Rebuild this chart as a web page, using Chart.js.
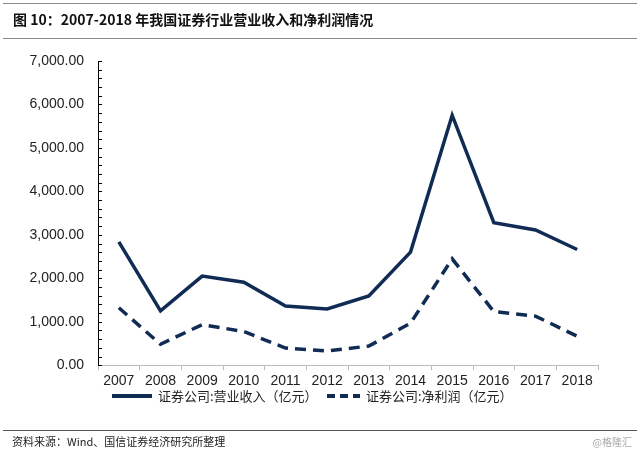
<!DOCTYPE html>
<html>
<head>
<meta charset="utf-8">
<script src="https://cdn.jsdelivr.net/npm/chart.js@4"></script>
<style>
  html, body { margin: 0; padding: 0; background: #fff; }
  .page { position: relative; width: 640px; height: 453px; overflow: hidden; }
  .rule { position: absolute; left: 3px; width: 634px; height: 1px; background: #8a8a8a; }
  .title { position: absolute; left: 13px; top: 9px; font: bold 14px "Noto Sans CJK SC", sans-serif; color: #111; }
  .source { position: absolute; left: 12px; top: 433px; font: 11px "Noto Sans CJK SC", sans-serif; color: #222; }
  .mark { position: absolute; right: 8px; top: 434px; font: 10px "Noto Sans CJK SC", sans-serif; color: #aaa; }
  canvas { position: absolute; left: 0; top: 0; }
</style>
</head>
<body>
<div class="page">
  <canvas id="chart" width="640" height="453"></canvas>
  <div class="rule" style="top:3px"></div>
  <div class="title">图 10：2007-2018 年我国证券行业营业收入和净利润情况</div>
  <div class="rule" style="top:38px"></div>
  <div class="rule" style="top:430px; background:#555"></div>
  <div class="source">资料来源：Wind、国信证券经济研究所整理</div>
  <div class="mark">@格隆汇</div>
</div>
<script>
/* Data */

const years = ['2007', '2008', '2009', '2010', '2011', '2012', '2013', '2014', '2015', '2016', '2017', '2018']
const revenue = [2837, 1251, 2050, 1911, 1360, 1295, 1592, 2603, 5752, 3280, 3113, 2663]
const profit = [1321, 482, 933, 776, 394, 329, 440, 966, 2447, 1234, 1130, 666]

const navy = '#112c54'

/* Y axis: black line with inward ticks (major 1000, minor 200) */

const innerTicks = {
  id: 'innerTicks',
  afterDraw(chart) {
    const ctx = chart.ctx
    const y = chart.scales.y
    const left = chart.chartArea.left
    ctx.save()
    ctx.strokeStyle = '#000'
    ctx.lineWidth = 1
    for (let v = 0; v <= 7000; v += 200) {
      const py = Math.round(y.getPixelForValue(v)) + 0.5
      ctx.beginPath()
      ctx.moveTo(left, py)
      ctx.lineTo(left + 4, py)
      ctx.stroke()
    }
    ctx.restore()
  }
}

/* Legend under the axis: line sample + label for each dataset */

const lineLegend = {
  id: 'lineLegend',
  afterDraw(chart) {
    const ctx = chart.ctx
    const items = [
      { x: 112, w: 40, dash: [] },
      { x: 327, w: 33, dash: [8, 5] }
    ]
    const y = 396
    ctx.save()
    ctx.font = '13px "Noto Sans CJK SC", sans-serif'
    ctx.textBaseline = 'middle'
    items.forEach((it, i) => {
      const ds = chart.data.datasets[i]
      ctx.strokeStyle = ds.borderColor
      ctx.lineWidth = 4
      ctx.setLineDash(it.dash)
      ctx.beginPath()
      ctx.moveTo(it.x, y)
      ctx.lineTo(it.x + it.w, y)
      ctx.stroke()
      ctx.setLineDash([])
      ctx.fillStyle = '#222'
      ctx.fillText(ds.label, it.x + it.w + 6, y)
    })
    ctx.restore()
  }
}

const ctx = document.getElementById('chart').getContext('2d')
const myChart = new Chart(ctx, {
  type: 'line',
  data: {
    labels: years,
    datasets: [{
      label: '证券公司:营业收入（亿元）',
      data: revenue,
      borderColor: navy,
      backgroundColor: navy,
      borderWidth: 3.5,
      pointRadius: 0,
      tension: 0
    }, {
      label: '证券公司:净利润（亿元）',
      data: profit,
      borderColor: navy,
      backgroundColor: navy,
      borderWidth: 3.5,
      borderDash: [11, 7],
      pointRadius: 0,
      tension: 0
    }]
  },
  options: {
    responsive: false,
    animation: false,
    layout: { padding: { top: 61, right: 42, bottom: 60, left: 0 } },
    plugins: {
      tooltip: { enabled: false },
      legend: { display: false }
    },
    scales: {
      x: {
        offset: true,
        border: { color: '#bbb' },
        grid: { offset: true, drawOnChartArea: false, tickLength: 5, color: '#bbb' },
        ticks: {
          color: '#222',
          padding: 3,
          maxRotation: 0,
          font: { family: '"Liberation Sans", Arial, sans-serif', size: 14 }
        }
      },
      y: {
        min: 0,
        max: 7000,
        afterFit: (scale) => { scale.width = 98 },
        border: { color: '#000' },
        grid: { display: false },
        ticks: {
          stepSize: 1000,
          color: '#222',
          padding: 6,
          font: { family: '"Liberation Sans", Arial, sans-serif', size: 14 },
          callback: (v) => v.toLocaleString('en-US', { minimumFractionDigits: 2, maximumFractionDigits: 2 })
        }
      }
    }
  },
  plugins: [innerTicks, lineLegend]
})
</script>
</body>
</html>
